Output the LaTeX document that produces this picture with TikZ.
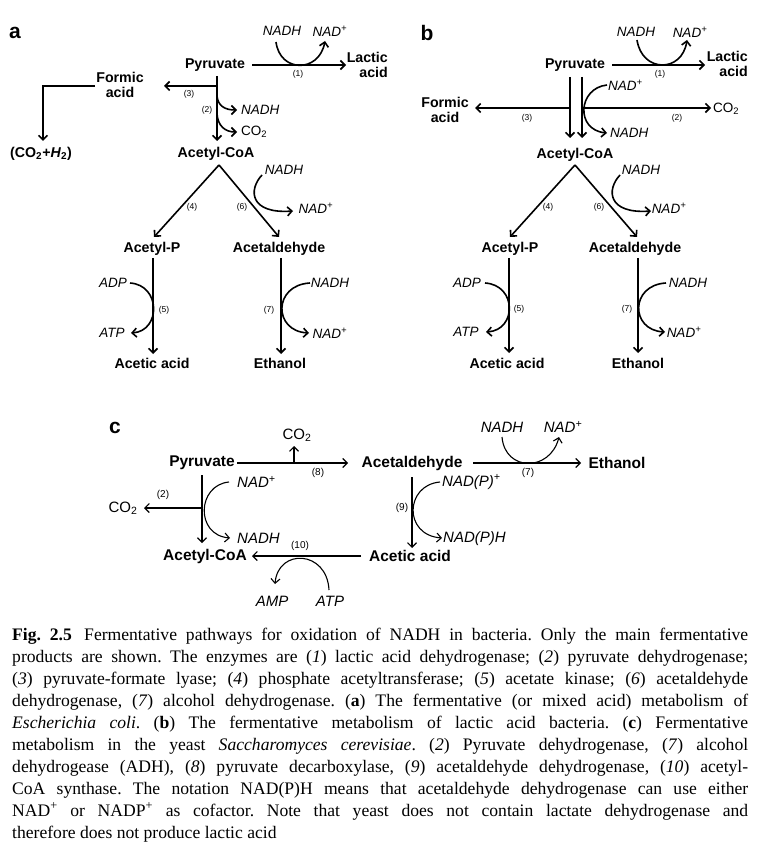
\documentclass[tikz,border=0pt]{standalone}
\usepackage{fontspec}
\setmainfont{Liberation Serif}
\setsansfont{Liberation Sans}
\usetikzlibrary{arrows.meta}
\frenchspacing
\begin{document}
\begin{tikzpicture}[x=1pt,y=-1pt,
 lbl/.style={font=\sffamily\bfseries\fontsize{14.2}{15}\selectfont, inner sep=0pt},
 cof/.style={font=\sffamily\itshape\fontsize{13.5}{15}\selectfont, inner sep=0pt},
 rom/.style={font=\sffamily\fontsize{13.5}{15}\selectfont, inner sep=0pt},
 num/.style={font=\sffamily\fontsize{8.5}{10}\selectfont, inner sep=0pt},
 pan/.style={font=\sffamily\bfseries\fontsize{21}{22}\selectfont, inner sep=0pt},
 lblc/.style={font=\sffamily\bfseries\fontsize{15.5}{17}\selectfont, inner sep=0pt},
 cofc/.style={font=\sffamily\itshape\fontsize{15}{17}\selectfont, inner sep=0pt},
 romc/.style={font=\sffamily\fontsize{15}{17}\selectfont, inner sep=0pt},
 numc/.style={font=\sffamily\fontsize{10}{11}\selectfont, inner sep=0pt},
 ln/.style={line width=1.6pt},
 arr/.style={ln, -{Straight Barb[length=4.5pt,width=9pt]}},
 lnc/.style={line width=1.1pt},
 arrc/.style={lnc, -{Straight Barb[length=4.5pt,width=9pt]}},
 captxt/.style={font=\rmfamily\fontsize{17.6}{22}\selectfont, inner sep=0pt, anchor=base west}
]
\useasboundingbox (0,0) rectangle (764,858);

% ---------------- panel a ----------------
\node[pan] (pa) at (15,33) {a};
\node[cof] (a1nadh) at (282,31) {NADH};
\node[cof] (a1nad) at (330,31) {NAD\textsuperscript{+}};
\node[lbl] (apyr) at (215,65) {Pyruvate};
\node[lbl, align=right, anchor=east] (alac) at (388,65) {Lactic\\acid};
\node[num] (an1) at (298,74) {(1)};
\node[lbl, align=center] (aform) at (120,85) {Formic\\acid};
\node[lbl] (aco2h2) at (41,154) {(CO\textsubscript{2}+\textit{H}\textsubscript{2})};
\node[num] (an3) at (189,94) {(3)};
\node[num] (an2) at (207,110) {(2)};
\node[cof, anchor=west] (a2nadh) at (241,110) {NADH};
\node[rom, anchor=west] (a2co2) at (241,132) {CO\textsubscript{2}};
\node[lbl] (aacoa) at (216,154) {Acetyl-CoA};
\node[num] (an4) at (192,207) {(4)};
\node[num] (an6) at (242,207) {(6)};
\node[cof] (a6nadh) at (284,170) {NADH};
\node[cof] (a6nad) at (316,208) {NAD\textsuperscript{+}};
\node[lbl] (aacp) at (152,249) {Acetyl-P};
\node[lbl] (aald) at (279,249) {Acetaldehyde};
\node[lbl] (aace) at (152,363) {Acetic acid};
\node[lbl] (aeth) at (280,363) {Ethanol};
\node[cof] (aadp) at (113,283) {ADP};
\node[cof] (aatp) at (112,333) {ATP};
\node[num] (an5) at (164,310) {(5)};
\node[cof] (a7nadh) at (330,283) {NADH};
\node[cof] (a7nad) at (330,333) {NAD\textsuperscript{+}};
\node[num] (an7) at (269,310) {(7)};

\draw[arr] (252,65) -- (346,65);
\draw[arr] (276,42) .. controls (280,73) and (319,73) .. (325,41);
\draw[arr] (217,76) -- (217,141);
\draw[arr] (217,86) -- (164,86);
\draw[arr] (95,86) -- (43,86) -- (43,141);
\draw[arr] (217,96) .. controls (218,106) and (225,110) .. (237,110);
\draw[arr] (217,114) .. controls (218,126) and (225,132) .. (237,132);
\draw[arr] (219,165) -- (154,237);
\draw[arr] (219,165) -- (279,237);
\draw[arr] (262,175) .. controls (248,190) and (250,214) .. (293,211);
\draw[arr] (153,258) -- (153,354);
\draw[arr] (281,258) -- (281,354);
\draw[arr] (130,283) .. controls (161,285) and (161,331) .. (131,333);
\draw[arr] (310,283) .. controls (273,285) and (273,331) .. (309,333);

% ---------------- panel b ----------------
\node[pan] (pb) at (427,33) {b};
\node[cof] (b1nadh) at (636,32) {NADH};
\node[cof] (b1nad) at (690,32) {NAD\textsuperscript{+}};
\node[lbl] (bpyr) at (575,65) {Pyruvate};
\node[lbl, align=right, anchor=east] (blac) at (748,64) {Lactic\\acid};
\node[num] (bn1) at (660,74) {(1)};
\node[lbl, align=center] (bform) at (445,110) {Formic\\acid};
\node[rom, anchor=west] (bco2) at (713,109) {CO\textsubscript{2}};
\node[num] (bn3) at (527,118) {(3)};
\node[num] (bn2) at (677,118) {(2)};
\node[cof, anchor=west] (b2nad) at (608,85) {NAD\textsuperscript{+}};
\node[cof, anchor=west] (b2nadh) at (610,133) {NADH};
\node[lbl] (bacoa) at (575,155) {Acetyl-CoA};
\node[num] (bn4) at (548,207) {(4)};
\node[num] (bn6) at (599,207) {(6)};
\node[cof] (b6nadh) at (641,170) {NADH};
\node[cof] (b6nad) at (669,208) {NAD\textsuperscript{+}};
\node[lbl] (bacp) at (510,249) {Acetyl-P};
\node[lbl] (bald) at (635,249) {Acetaldehyde};
\node[lbl] (bace) at (507,363) {Acetic acid};
\node[lbl] (beth) at (638,363) {Ethanol};
\node[cof] (badp) at (467,283) {ADP};
\node[cof] (batp) at (466,332) {ATP};
\node[num] (bn5) at (519,309) {(5)};
\node[cof] (b7nadh) at (688,283) {NADH};
\node[cof] (b7nad) at (684,332) {NAD\textsuperscript{+}};
\node[num] (bn7) at (627,309) {(7)};

\draw[arr] (612,65) -- (705,65);
\draw[arr] (637,40) .. controls (642,73) and (682,73) .. (687,40);
\draw[arr] (570,77) -- (570,138);
\draw[arr] (582,77) -- (582,138);
\draw[arr] (570,108) -- (475,108);
\draw[arr] (582,108) -- (711,108);
\draw[arr] (607,85) .. controls (578,88) and (575,130) .. (607,133);
\draw[arr] (575,165) -- (510,237);
\draw[arr] (575,165) -- (637,237);
\draw[arr] (620,175) .. controls (606,190) and (608,214) .. (651,211);
\draw[arr] (509,258) -- (509,353);
\draw[arr] (638,258) -- (638,353);
\draw[arr] (485,283) .. controls (517,285) and (517,330) .. (486,332);
\draw[arr] (666,283) .. controls (630,285) and (630,330) .. (665,332);

% ---------------- panel c ----------------
\node[pan] (pc) at (115,428) {c};
\node[lblc] (cpyr) at (202,463) {Pyruvate};
\node[romc] (cco2a) at (297,435) {CO\textsubscript{2}};
\node[numc] (cn8) at (318,473) {(8)};
\node[lblc] (cald) at (412,463) {Acetaldehyde};
\node[lblc] (ceth) at (617,463) {Ethanol};
\node[cofc] (c7nadh) at (502,427) {NADH};
\node[cofc] (c7nad) at (563,427) {NAD\textsuperscript{+}};
\node[numc] (cn7) at (528,473) {(7)};
\node[lblc] (cace) at (410,556) {Acetic acid};
\node[cofc, anchor=west] (c9nadp) at (442,482) {NAD(P)\textsuperscript{+}};
\node[cofc, anchor=west] (c9nadph) at (443,539) {NAD(P)H};
\node[numc] (cn9) at (402,508) {(9)};
\node[lblc] (cacoa) at (205,556) {Acetyl-CoA};
\node[romc] (cco2b) at (123,508) {CO\textsubscript{2}};
\node[numc] (cn2) at (163,495) {(2)};
\node[cofc, anchor=west] (c2nad) at (237,482) {NAD\textsuperscript{+}};
\node[cofc, anchor=west] (c2nadh) at (237,538) {NADH};
\node[numc] (cn10) at (300,546) {(10)};
\node[cofc] (camp) at (272,601) {AMP};
\node[cofc] (catp) at (330,601) {ATP};

\draw[arrc] (237,463) -- (348,463);
\draw[arrc] (294,463) -- (294,446);
\draw[arrc] (473,463) -- (581,463);
\draw[arrc] (502,437) .. controls (505,472) and (550,472) .. (559,437);
\draw[arrc] (412,477) -- (412,548);
\draw[arrc] (440,482) .. controls (405,485) and (403,535) .. (442,538);
\draw[arrc] (202,475) -- (202,543);
\draw[arrc] (202,508) -- (144,508);
\draw[arrc] (229,482) .. controls (197,485) and (195,535) .. (230,538);
\draw[arrc] (361,556) -- (252,556);
\draw[arrc] (329,590) .. controls (327,550) and (278,548) .. (275,584);

% ---------------- caption ----------------
\node[captxt] (l1) at (12,640) {\hbox to 736pt{\textbf{Fig. 2.5}\hspace{0.7em}Fermentative pathways for oxidation of NADH in bacteria. Only the main fermentative}};
\node[captxt] (l2) at (12,662) {\hbox to 736pt{products are shown. The enzymes are (\textit{1}) lactic acid dehydrogenase; (\textit{2}) pyruvate dehydrogenase;}};
\node[captxt] (l3) at (12,684) {\hbox to 736pt{(\textit{3}) pyruvate-formate lyase; (\textit{4}) phosphate acetyltransferase; (\textit{5}) acetate kinase; (\textit{6}) acetaldehyde}};
\node[captxt] (l4) at (12,706) {\hbox to 736pt{dehydrogenase, (\textit{7}) alcohol dehydrogenase. (\textbf{a}) The fermentative (or mixed acid) metabolism of}};
\node[captxt] (l5) at (12,728) {\hbox to 736pt{\textit{Escherichia coli}. (\textbf{b}) The fermentative metabolism of lactic acid bacteria. (\textbf{c}) Fermentative}};
\node[captxt] (l6) at (12,750) {\hbox to 736pt{metabolism in the yeast \textit{Saccharomyces cerevisiae}. (\textit{2}) Pyruvate dehydrogenase, (\textit{7}) alcohol}};
\node[captxt] (l7) at (12,772) {\hbox to 736pt{dehydrogease (ADH), (\textit{8}) pyruvate decarboxylase, (\textit{9}) acetaldehyde dehydrogenase, (\textit{10}) acetyl-}};
\node[captxt] (l8) at (12,794) {\hbox to 736pt{CoA synthase. The notation NAD(P)H means that acetaldehyde dehydrogenase can use either}};
\node[captxt] (l9) at (12,816) {\hbox to 736pt{NAD\textsuperscript{+} or NADP\textsuperscript{+} as cofactor. Note that yeast does not contain lactate dehydrogenase and}};
\node[captxt] (l10) at (12,838) {therefore does not produce lactic acid};
\end{tikzpicture}
\end{document}
